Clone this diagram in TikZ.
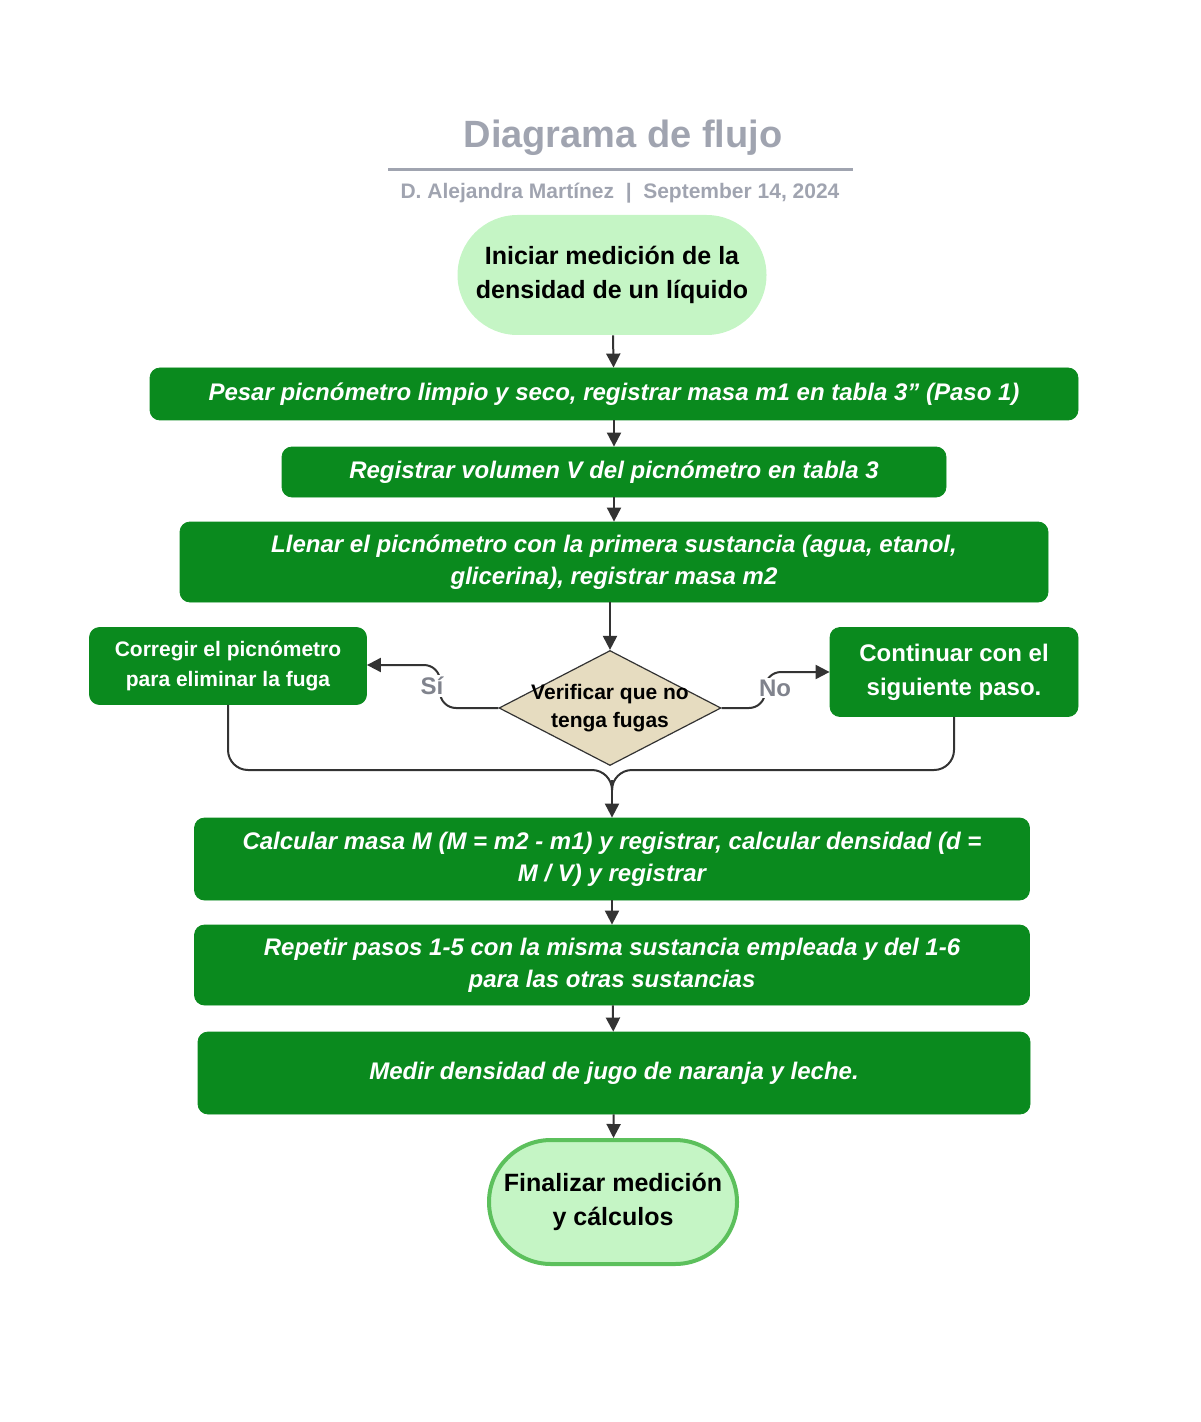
\documentclass[tikz,border=0pt]{standalone}
\usepackage{fontspec}
\setmainfont{Liberation Sans}
\usetikzlibrary{shapes.geometric,shapes.misc,arrows.meta}
\definecolor{gbox}{HTML}{0A8A1E}
\definecolor{lgreen}{HTML}{C5F5C5}
\definecolor{egreen}{HTML}{5CC05C}
\definecolor{tgray}{HTML}{A0A4B0}
\definecolor{dia}{HTML}{E6DCC0}
\definecolor{lnk}{HTML}{333333}
\tikzset{
  proc/.style={draw=gbox,fill=gbox,rounded corners=5pt,text=white,font=\bfseries\itshape\fontsize{12}{16}\selectfont,align=center,inner sep=0pt},
  term/.style={rounded rectangle,fill=lgreen,font=\bfseries\fontsize{12.5}{17}\selectfont,align=center,inner sep=0pt},
  lk/.style={draw=lnk,line width=1pt,-{Triangle[length=7pt,width=7pt]}},
  ln/.style={draw=lnk,line width=1pt},
}
\begin{document}
\begin{tikzpicture}[x=0.5pt,y=-0.5pt]
\useasboundingbox (0,0) rectangle (1200,1422);
\node[text=tgray,font=\bfseries\fontsize{19}{22}\selectfont] (title) at (623,138) {Diagrama de flujo};
\draw[tgray,line width=1.5pt] (388,170) -- (853,170);
\node[text=tgray,font=\bfseries\fontsize{10.5}{12}\selectfont] (sub) at (620,193) {D. Alejandra Martínez \ | \ September 14, 2024};
\node[term,minimum width=154.5pt,minimum height=60pt] (start) at (612,275) {Iniciar medición de la\\densidad de un líquido};
\node[proc,minimum width=464pt,minimum height=26pt] (b1) at (614,394) {Pesar picnómetro limpio y seco, registrar masa m1 en tabla 3" (Paso 1)};
\node[proc,minimum width=332pt,minimum height=25pt] (b2) at (614,472) {Registrar volumen V del picnómetro en tabla 3};
\node[proc,minimum width=434pt,minimum height=40pt] (b3) at (614,562) {Llenar el picnómetro con la primera sustancia (agua, etanol,\\glicerina), registrar masa m2};
\node[diamond,draw=lnk,fill=dia,line width=0.6pt,minimum width=111pt,minimum height=57.5pt,inner sep=0pt,aspect=2] (d) at (610,708) {};
\node[font=\bfseries\fontsize{10.5}{14}\selectfont,align=center] (dt) at (d.center) {Verificar que no\\tenga fugas};
\node[proc,font=\bfseries\fontsize{10.5}{15}\selectfont,minimum width=138.5pt,minimum height=38.5pt] (l) at (228,666) {Corregir el picnómetro\\para eliminar la fuga};
\node[proc,font=\bfseries\fontsize{12}{17}\selectfont,minimum width=124pt,minimum height=44.5pt] (r) at (954,672) {Continuar con el\\siguiente paso.};
\node[proc,minimum width=417.5pt,minimum height=41pt] (b4) at (612,859) {Calcular masa M (M = m2 - m1) y registrar, calcular densidad (d =\\M / V) y registrar};
\node[proc,minimum width=417.5pt,minimum height=40pt] (b5) at (612,965) {Repetir pasos 1-5 con la misma sustancia empleada y del 1-6\\para las otras sustancias};
\node[proc,minimum width=416pt,minimum height=41pt] (b6) at (614,1073) {Medir densidad de jugo de naranja y leche.};
\node[term,draw=egreen,line width=2pt,minimum width=124pt,minimum height=62pt] (end) at (613,1202) {Finalizar medición\\y cálculos};
\coordinate (m) at (612,780);
\draw[lk] (start) -- (b1);
\draw[lk] (b1) -- (b2);
\draw[lk] (b2) -- (b3);
\draw[lk] (b3.south -| d.north) -- (d.north);
\draw[lk,rounded corners=8pt] (d.west) -- (440,708) -- (440,665) -- (l.east |- 0,665);
\draw[lk,rounded corners=8pt] (d.east) -- (765,708) -- (765,672) -- (r.west);
\node[fill=white,inner sep=1pt,text=tgray!80!black,font=\bfseries\fontsize{12}{14}\selectfont] (si) at (432,686) {Sí};
\node[fill=white,inner sep=1pt,text=tgray!80!black,font=\bfseries\fontsize{12}{14}\selectfont] (no) at (775,688) {No};
\draw[ln,rounded corners=10pt] (l.south) -- (228,770) -- (612,770) -- (m);
\draw[ln,rounded corners=10pt] (r.south) -- (954,770) -- (612,770) -- (m);
\draw[lk] (m) -- (b4.north);
\draw[lk] (b4) -- (b5);
\draw[lk] (b5) -- (b6);
\draw[lk] (b6) -- (end);
\end{tikzpicture}
\end{document}
